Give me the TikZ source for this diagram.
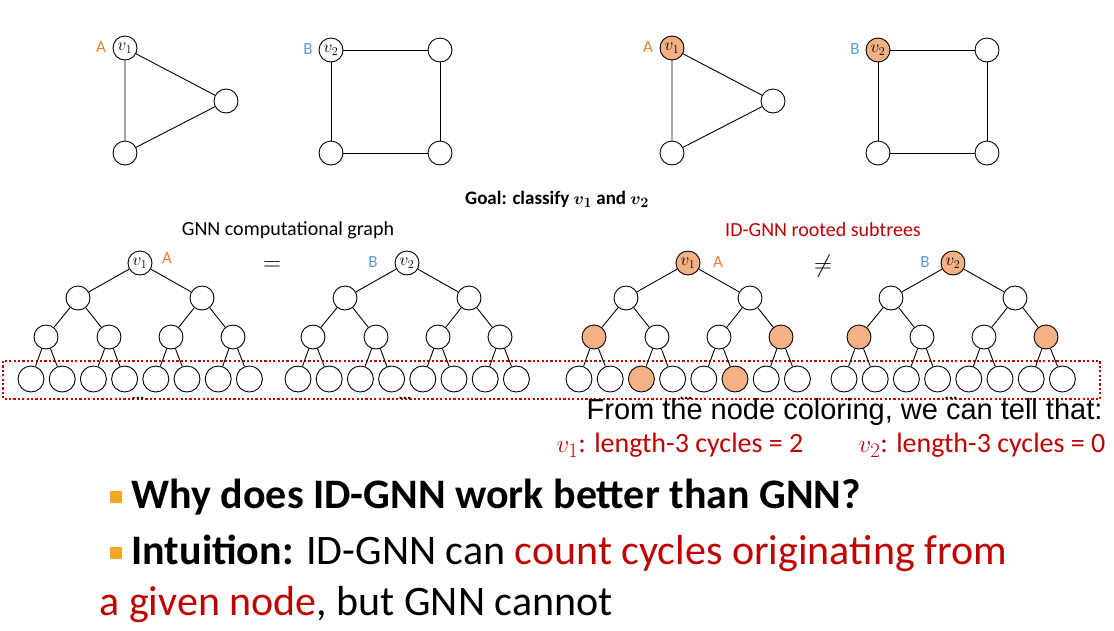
\documentclass[tikz,border=0pt]{standalone}
\usepackage{amsmath,amssymb,bm}
\usepackage{fontspec}
\setmainfont{Carlito}
\newfontfamily\arialf{Liberation Sans}
\begin{document}
\begin{tikzpicture}[x=1pt,y=-1pt,
  nd/.style={circle,draw,line width=0.9pt,minimum size=24pt,inner sep=0pt,fill=white,font=\fontsize{17}{17}\selectfont},
  lf/.style={nd,minimum size=26pt},
  ed/.style={line width=0.9pt},
  hl/.style={fill=orf},
  lA/.style={text=orA,font=\fontsize{17}{17}\selectfont},
  lB/.style={text=blB,font=\fontsize{17}{17}\selectfont},
  h3r/.style={hl},h4r/.style={hl},h3b1/.style={hl},h3b4/.style={hl},h4b1/.style={hl},h4b4/.style={hl},h3c3/.style={hl},h3c6/.style={hl},
  g1r/.style={},g2r/.style={hl}
]
\definecolor{orf}{HTML}{F4B183}
\definecolor{orA}{HTML}{ED7D31}
\definecolor{blB}{HTML}{5B9BD5}
\definecolor{rd}{HTML}{C00000}
\definecolor{bul}{HTML}{F5A623}
\useasboundingbox (0,0) rectangle (1114,630);
% top graphs
\foreach \g/\ox/\st in {1/0/g1r,2/547/g2r}{
  \node[nd,\st] (tri\g a) at (125+\ox,48) {$v_1$};
  \node[nd] (tri\g b) at (226+\ox,101) {};
  \node[nd] (tri\g c) at (125+\ox,153) {};
  \draw[ed] (tri\g a)--(tri\g b)--(tri\g c)--(tri\g a);
  \node[lA] (triA\g) at (101+\ox,47) {A};
  \node[nd,\st] (sq\g a) at (331+\ox,50) {$v_2$};
  \node[nd] (sq\g b) at (440+\ox,50) {};
  \node[nd] (sq\g c) at (440+\ox,153) {};
  \node[nd] (sq\g d) at (331+\ox,153) {};
  \draw[ed] (sq\g a)--(sq\g b)--(sq\g c)--(sq\g d)--(sq\g a);
  \node[lB] (sqB\g) at (308+\ox,49) {B};
}
\node[font=\bfseries\fontsize{19}{19}\selectfont] (goal) at (557,199) {Goal: classify $\bm{v_1}$ and $\bm{v_2}$};
\node[font=\fontsize{20}{20}\selectfont] (gnnl) at (288,230) {GNN computational graph};
\node[font=\fontsize{20}{20}\selectfont,text=rd] (idl) at (823,230) {ID-GNN rooted subtrees};
% dotted box
\draw[rd,line width=2.2pt,dash pattern=on 2.2pt off 2.2pt] (3,361) rectangle (1100,399);
% trees
\foreach \t/\ox/\lab in {1/0/v_1,2/267/v_2,3/548/v_1,4/813/v_2}{
  \node[nd,h\t r/.try] (t\t r) at (140+\ox,263) {$\lab$};
  \node[nd] (t\t a1) at (78+\ox,298) {};
  \node[nd] (t\t a2) at (202+\ox,298) {};
  \foreach \i/\x in {1/46,2/109,3/171,4/233}
    \node[nd,h\t b\i/.try] (t\t b\i) at (\x+\ox,337) {};
  \foreach \i in {1,...,8}
    \node[lf,h\t c\i/.try] (t\t c\i) at (31+31.2*\i-31.2+\ox,379) {};
  \draw[ed] (t\t r)--(t\t a1) (t\t r)--(t\t a2)
    (t\t a1)--(t\t b1) (t\t a1)--(t\t b2) (t\t a2)--(t\t b3) (t\t a2)--(t\t b4)
    (t\t b1)--(t\t c1) (t\t b1)--(t\t c2) (t\t b2)--(t\t c3) (t\t b2)--(t\t c4)
    (t\t b3)--(t\t c5) (t\t b3)--(t\t c6) (t\t b4)--(t\t c7) (t\t b4)--(t\t c8);
  \node[anchor=south,inner sep=0pt,font=\bfseries\fontsize{16}{16}\selectfont] (dots\t) at (138+\ox,400) {...};
}
\node[lA] (ta1) at (167,258) {A};
\node[lB] (tb2) at (373,262) {B};
\node[lA] (ta3) at (718,262) {A};
\node[lB] (tb4) at (925,262) {B};
\node[font=\fontsize{30}{30}\selectfont] (eq) at (272,266) {$=$};
\node[font=\fontsize{30}{30}\selectfont] (neq) at (823,266) {$\neq$};
% explanation
\node[anchor=east,font=\arialf\fontsize{29}{29}\selectfont] (from) at (1106,412) {From the node coloring, we can tell that:};
\node[anchor=west,text=rd,font=\fontsize{28}{28}\selectfont] (c1) at (553,445) {$v_1$: length-3 cycles = 2};
\node[anchor=west,text=rd,font=\fontsize{28}{28}\selectfont] (c2) at (855,445) {$v_2$: length-3 cycles = 0};
% bullets
\fill[bul] (110,491) rectangle (122,503);
\fill[bul] (110,547) rectangle (122,559);
\node[anchor=west,font=\bfseries\fontsize{42}{42}\selectfont] (b1) at (128,497) {Why does ID-GNN work better than GNN?};
\node[anchor=west,font=\fontsize{42}{42}\selectfont] (b2) at (128,553) {\textbf{Intuition:} ID-GNN can \textcolor{rd}{count cycles originating from}};
\node[anchor=west,font=\fontsize{42}{42}\selectfont] (b3) at (96,605) {\textcolor{rd}{a given node}, but GNN cannot};
\end{tikzpicture}
\end{document}
